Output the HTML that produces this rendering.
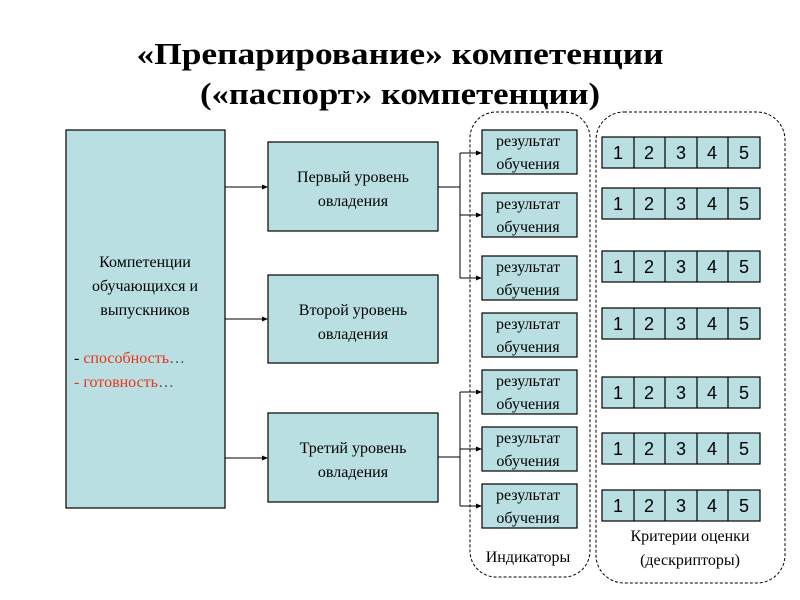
<!DOCTYPE html>
<html><head><meta charset="utf-8"><style>
html,body{margin:0;padding:0;background:#fff;}
svg{display:block;}
.t{font-family:"Liberation Serif",serif;}
.s{font-family:"Liberation Sans",sans-serif;}
</style></head><body>
<svg width="800" height="600" xmlns="http://www.w3.org/2000/svg">
<defs><marker id="a" markerWidth="6" markerHeight="6" refX="5" refY="3" orient="auto" markerUnits="userSpaceOnUse"><path d="M0,0.5 L6,3 L0,5.5z" fill="#000"/></marker></defs>
<text class="t" x="400" y="64" font-size="31" font-weight="bold" text-anchor="middle" textLength="527" lengthAdjust="spacingAndGlyphs">«Препарирование» компетенции</text>
<text class="t" x="400" y="104" font-size="31" font-weight="bold" text-anchor="middle" textLength="400" lengthAdjust="spacingAndGlyphs">(«паспорт» компетенции)</text>

<rect x="470" y="112" width="120" height="465" rx="26" fill="none" stroke="#000" stroke-dasharray="3,2"/>
<rect x="596" y="112" width="189" height="471" rx="28" fill="none" stroke="#000" stroke-dasharray="3,2"/>

<g fill="#b9dfe2" stroke="#000" stroke-width="1.2">
<rect x="66" y="130" width="159" height="378"/>
<rect x="268" y="142" width="170" height="89"/>
<rect x="268" y="275" width="170" height="88"/>
<rect x="268" y="413" width="170" height="89"/>
</g>
<g class="t" font-size="16" text-anchor="middle" fill="#000">
<text x="145" y="267">Компетенции</text>
<text x="145" y="291">обучающихся и</text>
<text x="145" y="315">выпускников</text>
<text x="353" y="182">Первый уровень</text><text x="353" y="206">овладения</text>
<text x="353" y="315">Второй уровень</text><text x="353" y="339">овладения</text>
<text x="353" y="453">Третий уровень</text><text x="353" y="477">овладения</text>
</g>
<g class="t" font-size="16" fill="#e8361a">
<text x="74" y="363"><tspan fill="#000">- </tspan>способность<tspan fill="#555">…</tspan></text>
<text x="74" y="387">- готовность<tspan fill="#555">…</tspan></text>
</g>
<g stroke="#000" stroke-width="1" fill="none">
<line x1="225" y1="187" x2="267" y2="187" marker-end="url(#a)"/>
<line x1="225" y1="319" x2="267" y2="319" marker-end="url(#a)"/>
<line x1="225" y1="458" x2="267" y2="458" marker-end="url(#a)"/>
<line x1="438" y1="187" x2="460" y2="187"/>
<line x1="460" y1="153" x2="460" y2="278"/>
<line x1="460" y1="153" x2="481" y2="153" marker-end="url(#a)"/>
<line x1="460" y1="215" x2="481" y2="215" marker-end="url(#a)"/>
<line x1="460" y1="278" x2="481" y2="278" marker-end="url(#a)"/>
<line x1="438" y1="457" x2="460" y2="457"/>
<line x1="460" y1="392" x2="460" y2="506"/>
<line x1="460" y1="392" x2="481" y2="392" marker-end="url(#a)"/>
<line x1="460" y1="449" x2="481" y2="449" marker-end="url(#a)"/>
<line x1="460" y1="506" x2="481" y2="506" marker-end="url(#a)"/>
</g>
<g fill="#b9dfe2" stroke="#000" stroke-width="1.2">
<rect x="482" y="130" width="95" height="44"/>
<rect x="482" y="193" width="95" height="44"/>
<rect x="482" y="256" width="95" height="44"/>
<rect x="482" y="313" width="95" height="44"/>
<rect x="482" y="370" width="95" height="44"/>
<rect x="482" y="427" width="95" height="44"/>
<rect x="482" y="484" width="95" height="44"/>
</g>
<g class="t" font-size="16" text-anchor="middle">
<text x="528" y="146">результат</text><text x="528" y="169">обучения</text>
<text x="528" y="209">результат</text><text x="528" y="232">обучения</text>
<text x="528" y="272">результат</text><text x="528" y="295">обучения</text>
<text x="528" y="329">результат</text><text x="528" y="352">обучения</text>
<text x="528" y="386">результат</text><text x="528" y="409">обучения</text>
<text x="528" y="443">результат</text><text x="528" y="466">обучения</text>
<text x="528" y="500">результат</text><text x="528" y="523">обучения</text>
</g>
<g fill="#b9dfe2" stroke="#000" stroke-width="1.2">
<rect x="602" y="137" width="158" height="31"/>
<rect x="602" y="188" width="158" height="31"/>
<rect x="602" y="251" width="158" height="31"/>
<rect x="602" y="308" width="158" height="31"/>
<rect x="602" y="377" width="158" height="31"/>
<rect x="602" y="433" width="158" height="31"/>
<rect x="602" y="490" width="158" height="31"/>
</g>
<g stroke="#000" stroke-width="1.2">
<path d="M634,137v31M665,137v31M697,137v31M728,137v31"/>
<path d="M634,188v31M665,188v31M697,188v31M728,188v31"/>
<path d="M634,251v31M665,251v31M697,251v31M728,251v31"/>
<path d="M634,308v31M665,308v31M697,308v31M728,308v31"/>
<path d="M634,377v31M665,377v31M697,377v31M728,377v31"/>
<path d="M634,433v31M665,433v31M697,433v31M728,433v31"/>
<path d="M634,490v31M665,490v31M697,490v31M728,490v31"/>
</g>
<g class="s" font-size="18" text-anchor="middle">
<text y="159"><tspan x="618">1</tspan><tspan x="649">2</tspan><tspan x="681">3</tspan><tspan x="712">4</tspan><tspan x="744">5</tspan></text>
<text y="210"><tspan x="618">1</tspan><tspan x="649">2</tspan><tspan x="681">3</tspan><tspan x="712">4</tspan><tspan x="744">5</tspan></text>
<text y="273"><tspan x="618">1</tspan><tspan x="649">2</tspan><tspan x="681">3</tspan><tspan x="712">4</tspan><tspan x="744">5</tspan></text>
<text y="330"><tspan x="618">1</tspan><tspan x="649">2</tspan><tspan x="681">3</tspan><tspan x="712">4</tspan><tspan x="744">5</tspan></text>
<text y="399"><tspan x="618">1</tspan><tspan x="649">2</tspan><tspan x="681">3</tspan><tspan x="712">4</tspan><tspan x="744">5</tspan></text>
<text y="455"><tspan x="618">1</tspan><tspan x="649">2</tspan><tspan x="681">3</tspan><tspan x="712">4</tspan><tspan x="744">5</tspan></text>
<text y="512"><tspan x="618">1</tspan><tspan x="649">2</tspan><tspan x="681">3</tspan><tspan x="712">4</tspan><tspan x="744">5</tspan></text>
</g>
<g class="t" font-size="16" text-anchor="middle">
<text x="528" y="562">Индикаторы</text>
<text x="690" y="541">Критерии оценки</text>
<text x="690" y="565">(дескрипторы)</text>
</g>
</svg>
</body></html>
